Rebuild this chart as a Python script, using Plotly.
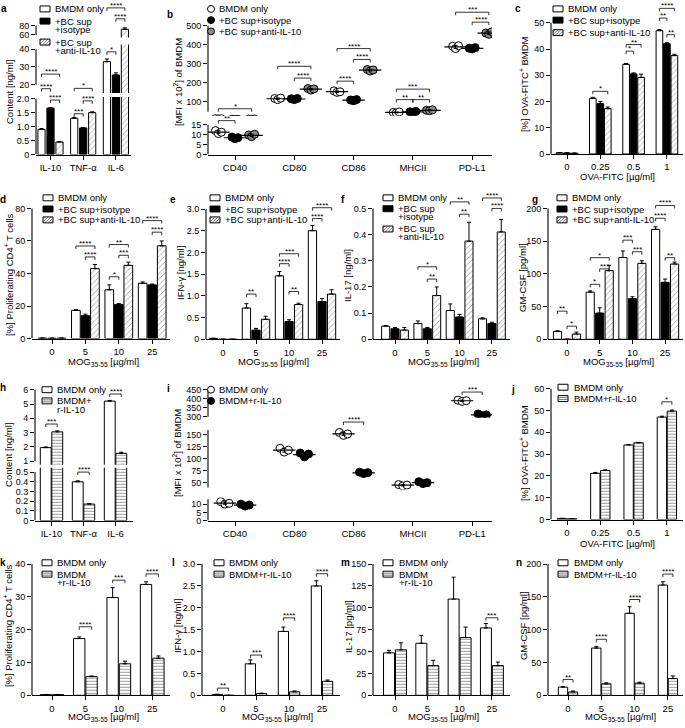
import plotly.graph_objects as go

W, H = 685, 728
FONT = "Liberation Sans, Arial, sans-serif"
FS = 9.5
TFS = 9
LW = 1.1

# ---------------- data ----------------
CYTO = ["IL-10", "TNF-α", "IL-6"]
SURF = ["CD40", "CD80", "CD86", "MHCII", "PD-L1"]
OVA = ["0", "0.25", "0.5", "1"]
MOG = ["0", "5", "10", "25"]

LEG_BC = ["BMDM only", "+BC sup+isotype", "+BC sup+anti-IL-10"]
LEG_BC_WRAP = ["BMDM only", ["+BC sup", "+isotype"], ["+BC sup", "+anti-IL-10"]]
LEG_R = ["BMDM only", "BMDM+r-IL-10"]
LEG_R_H = ["BMDM only", ["BMDM+", "r-IL-10"]]
LEG_R_WRAP = ["BMDM only", ["BMDM", "+r-IL-10"]]

# a  (cytokines, ng/ml)
A_ONLY = [0.9, 1.3, 33.0]
A_ONLY_ERR = [0.03, 0.03, 1.5]
A_ISO = [1.66, 0.95, 25.5]
A_ISO_ERR = [0.02, 0.02, 1.2]
A_ANTI = [0.45, 1.5, 72.0]
A_ANTI_ERR = [0.01, 0.03, 3.0]
A_SIG = [(0, 0, 1, 17.8, "****"), (0, 0, 2, 26.0, "****"), (0, 1, 2, 1.95, "****"),
         (1, 0, 1, 1.46, "***"), (1, 1, 2, 1.92, "****"), (1, 0, 2, 18.0, "*"),
         (2, 0, 1, 38.5, "*"), (2, 1, 2, 94.0, "****"), (2, 0, 2, 117.0, "****")]

# b  (MFI x 10^2, three replicates per group)
B_ONLY = [[12.0, 10.5, 11.2], [118, 112, 120], [158, 150, 153], [45, 42, 47], [392, 380, 395]]
B_ISO = [[8.8, 8.0, 8.5], [116, 112, 118], [110, 106, 112], [48, 46, 50], [382, 378, 385]]
B_ANTI = [[9.8, 9.0, 10.2], [170, 162, 168], [270, 262, 268], [56, 54, 58], [462, 455, 468]]
B_SIG = [(0, 0, 1, 17.0, "**"), (0, 0, 2, 64, "*"), (1, 0, 2, 287, "****"), (1, 1, 2, 225, "****"),
         (2, 0, 1, 209, "****"), (2, 0, 2, 380, "****"), (2, 1, 2, 323, "****"),
         (3, 0, 1, 112, "**"), (3, 1, 2, 112, "**"), (3, 0, 2, 167, "***"),
         (4, 0, 2, 571, "***"), (4, 1, 2, 519, "****")]

# c  (% OVA-FITC+ BMDM)
C_ONLY = [0.5, 21.2, 34.2, 47.0]
C_ONLY_ERR = [0.05, 0.4, 0.3, 0.4]
C_ISO = [0.4, 19.2, 30.5, 42.0]
C_ISO_ERR = [0.05, 0.8, 0.4, 0.4]
C_ANTI = [0.3, 17.3, 29.2, 37.5]
C_ANTI_ERR = [0.05, 0.6, 1.2, 0.5]
C_SIG = [(1, 0, 2, 23.9, "*"), (2, 0, 1, 39.2, "*"), (2, 0, 2, 41.7, "**"),
         (3, 0, 1, 51.8, "**"), (3, 1, 2, 45.5, "**"), (3, 0, 2, 55.5, "****")]

# d  (% proliferating CD4+ T cells)
D_ONLY = [0.3, 17.3, 30.0, 34.0]
D_ONLY_ERR = [0.05, 0.5, 3.0, 0.8]
D_ISO = [0.2, 14.0, 21.0, 33.0]
D_ISO_ERR = [0.05, 1.0, 0.5, 0.5]
D_ANTI = [0.3, 43.0, 45.0, 57.0]
D_ANTI_ERR = [0.05, 2.5, 2.0, 3.0]
D_SIG = [(1, 1, 2, 50.2, "****"), (1, 0, 2, 56.9, "****"), (2, 0, 1, 38.0, "*"),
         (2, 1, 2, 51.2, "***"), (2, 0, 2, 57.8, "**"), (3, 1, 2, 65.4, "****"), (3, 0, 2, 72.5, "****")]

# e  (IFN-g ng/ml)
E_ONLY = [0.02, 0.72, 1.46, 2.5]
E_ONLY_ERR = [0.003, 0.1, 0.1, 0.12]
E_ISO = [0.0, 0.21, 0.41, 0.87]
E_ISO_ERR = [0.0, 0.04, 0.04, 0.07]
E_ANTI = [0.0, 0.46, 0.8, 1.04]
E_ANTI_ERR = [0.0, 0.07, 0.03, 0.1]
E_SIG = [(1, 0, 1, 1.04, "**"), (2, 0, 1, 1.74, "****"), (2, 1, 2, 1.1, "**"),
         (2, 0, 2, 1.97, "***"), (3, 0, 1, 2.78, "****"), (3, 0, 2, 3.03, "****")]

# f  (IL-17 ng/ml)
F_ONLY = [0.05, 0.06, 0.11, 0.078]
F_ONLY_ERR = [0.003, 0.01, 0.025, 0.004]
F_ISO = [0.04, 0.04, 0.085, 0.06]
F_ISO_ERR = [0.005, 0.005, 0.01, 0.005]
F_ANTI = [0.035, 0.167, 0.375, 0.41]
F_ANTI_ERR = [0.01, 0.033, 0.072, 0.048]
F_SIG = [(1, 1, 2, 0.23, "**"), (1, 0, 2, 0.277, "*"), (2, 1, 2, 0.478, "**"),
         (2, 0, 2, 0.525, "**"), (3, 1, 2, 0.5, "****"), (3, 0, 2, 0.54, "****")]

# g  (GM-CSF pg/ml)
G_ONLY = [12, 72, 125, 168]
G_ONLY_ERR = [1, 2, 10, 4]
G_ISO = [0, 40, 62, 87]
G_ISO_ERR = [0, 8, 3, 5]
G_ANTI = [8, 105, 116, 115]
G_ANTI_ERR = [3, 8, 4, 3]
G_SIG = [(0, 0, 1, 43, "**"), (0, 1, 2, 20, "*"), (1, 0, 1, 84, "*"), (1, 1, 2, 107.6, "***"),
         (1, 0, 2, 124.7, "*"), (2, 0, 1, 151.5, "***"), (2, 1, 2, 133.8, "***"),
         (3, 1, 2, 124.7, "**"), (3, 0, 1, 185, "****"), (3, 0, 2, 204.5, "****")]

# h  (cytokines with r-IL-10)
H_ONLY = [1.95, 0.4, 5.2]
H_ONLY_ERR = [0.05, 0.01, 0.05]
H_RIL = [3.05, 0.17, 1.55]
H_RIL_ERR = [0.07, 0.005, 0.08]
H_SIG = [(0, 0, 1, 3.6, "***"), (1, 0, 1, 0.5, "****"), (2, 0, 1, 5.7, "****")]

# i  (MFI x 10^2 with r-IL-10)
I_ONLY = [[11.5, 10.0, 10.5], [122, 114, 118], [155, 149, 152], [46, 43, 45], [392, 385, 389]]
I_RIL = [[10.0, 8.8, 9.5], [112, 104, 110], [72, 69, 71], [52, 48, 50], [315, 305, 310]]
I_SIG = [(2, 0, 1, 177, "****"), (4, 0, 1, 437, "***")]

# j
J_ONLY = [0.5, 21.2, 34.2, 47.0]
J_ONLY_ERR = [0.05, 0.4, 0.2, 0.4]
J_RIL = [0.4, 22.5, 35.2, 49.7]
J_RIL_ERR = [0.05, 0.3, 0.2, 0.5]
J_SIG = [(3, 0, 1, 54, "*")]

# k
K_ONLY = [0.2, 17.3, 29.8, 33.8]
K_ONLY_ERR = [0.05, 0.5, 3.0, 0.8]
K_RIL = [0.2, 5.7, 9.6, 11.3]
K_RIL_ERR = [0.05, 0.2, 0.8, 0.7]
K_SIG = [(1, 0, 1, 20.9, "****"), (2, 0, 1, 35.1, "***"), (3, 0, 1, 37.0, "****")]

# l
L_ONLY = [0.02, 0.72, 1.46, 2.5]
L_ONLY_ERR = [0.003, 0.09, 0.1, 0.12]
L_RIL = [0.0, 0.04, 0.08, 0.32]
L_RIL_ERR = [0.0, 0.01, 0.02, 0.03]
L_SIG = [(0, 0, 1, 0.165, "**"), (1, 0, 1, 0.92, "***"), (2, 0, 1, 1.77, "****"), (3, 0, 1, 2.78, "****")]

# m
M_ONLY = [48.5, 59.5, 110, 77]
M_ONLY_ERR = [3, 9, 25, 5]
M_RIL = [52, 34, 66, 34]
M_RIL_ERR = [8, 6, 12, 4]
M_SIG = [(3, 0, 1, 88.6, "***")]

# n
N_ONLY = [12.5, 72, 125, 168]
N_ONLY_ERR = [1, 2.5, 10, 5]
N_RIL = [5, 17.5, 18.5, 25.5]
N_RIL_ERR = [1.5, 1.5, 1.5, 4]
N_SIG = [(0, 0, 1, 24, "**"), (1, 0, 1, 85.4, "****"), (2, 0, 1, 146, "****"), (3, 0, 1, 184.8, "****")]

# ---------------- helpers ----------------
fig = go.Figure()
layout = dict(width=W, height=H, margin=dict(l=0, r=0, t=0, b=0),
              paper_bgcolor="white", plot_bgcolor="white", showlegend=False,
              barmode="overlay", font=dict(family=FONT, size=FS, color="black"))
shapes, annots = [], []
counter = {"x": 0, "y": 0}

XSTYLE = dict(showline=True, linecolor="black", linewidth=LW, ticks="outside", ticklen=4,
              tickwidth=1, tickcolor="black", showgrid=False, zeroline=False,
              tickfont=dict(size=FS), fixedrange=True)
YSTYLE = dict(showline=False, ticks="outside", ticklen=4, tickwidth=1, tickcolor="black",
              showgrid=False, zeroline=False, tickfont=dict(size=TFS), fixedrange=True)

BAR_STYLE = {
    "open": dict(color="white", line=dict(color="black", width=1)),
    "solid": dict(color="black", line=dict(color="black", width=1)),
    "hatch": dict(color="white", line=dict(color="black", width=1),
                  pattern=dict(shape="/", fgcolor="#222", bgcolor="white", size=4, solidity=0.18)),
    "stripe": dict(color="white", line=dict(color="black", width=1),
                   pattern=dict(shape="-", fgcolor="#222", bgcolor="white", size=3, solidity=0.3)),
}
DOT_COLOR = {"open": "white", "solid": "black", "grey": "#8a8a8a"}


def fx(px):
    return px / W


def fy(py):
    return 1 - py / H


def next_id(letter):
    counter[letter] += 1
    n = counter[letter]
    return "" if n == 1 else str(n)


def tick_text(vals, dec):
    return ["0" if v == 0 else f"{v:.{dec}f}" for v in vals]


def panel(left, right, c0, sp, labels, segs):
    xs = next_id("x")
    ys = []
    for s in segs:
        yid = next_id("y")
        v0, p0, v1, p1 = s["cal"]
        k = (v1 - v0) / (p0 - p1)
        lo = v0 + (p0 - s["bottom"]) * k
        hi = v0 + (p0 - s["top"]) * k
        layout["yaxis" + yid] = dict(domain=[fy(s["bottom"]), fy(s["top"])], range=[lo, hi],
                                     anchor="x" + xs, tickvals=s["ticks"],
                                     ticktext=tick_text(s["ticks"], s.get("dec", 0)), **YSTYLE)
        l0, l1 = s.get("line", (s["ticks"][0], s["ticks"][-1]))
        shapes.append(dict(type="line", xref=f"x{xs} domain", yref="y" + yid, x0=0, x1=0,
                           y0=l0, y1=l1, line=dict(color="black", width=LW)))
        ys.append((yid, lo, hi))
    layout["xaxis" + xs] = dict(domain=[fx(left), fx(right)],
                                range=[(left - c0) / sp, (right - c0) / sp],
                                anchor="y" + ys[0][0], tickvals=list(range(len(labels))),
                                ticktext=labels, **XSTYLE)
    return dict(x=xs, ys=ys)


def bars(p, series, errs, styles, bw, pitch):
    m = len(series)
    for yid, lo, hi in p["ys"]:
        for k, (vals, err, st) in enumerate(zip(series, errs, styles)):
            off = (k - (m - 1) / 2) * pitch - bw / 2
            fig.add_trace(go.Bar(
                x=list(range(len(vals))), y=vals, width=bw, offset=off, marker=BAR_STYLE[st],
                error_y=dict(type="data", array=err, arrayminus=[0] * len(err), symmetric=False,
                             color="black", thickness=1, width=2),
                xaxis="x" + p["x"], yaxis="y" + yid, hoverinfo="skip"))


def dots(p, groups, styles, pitch, jitter):
    m = len(groups)
    for yid, lo, hi in p["ys"]:
        for k, (reps, st) in enumerate(zip(groups, styles)):
            base = (k - (m - 1) / 2) * pitch
            xs, yv = [], []
            for c, r in enumerate(reps):
                for j, v in enumerate(r):
                    xs.append(c + base + jitter[j])
                    yv.append(v)
            fig.add_trace(go.Scatter(x=xs, y=yv, mode="markers",
                                     marker=dict(size=8, color=DOT_COLOR[st],
                                                 line=dict(color="black", width=1)),
                                     xaxis="x" + p["x"], yaxis="y" + yid, hoverinfo="skip"))
            means = [sum(r) / len(r) for r in reps]
            sds = [(sum((v - mu) ** 2 for v in r) / (len(r) - 1)) ** 0.5 for r, mu in zip(reps, means)]
            fig.add_trace(go.Scatter(x=[c + base for c in range(len(reps))], y=means, mode="markers",
                                     marker=dict(symbol="line-ew-open", size=16, color="black",
                                                 line=dict(color="black", width=1.2)),
                                     error_y=dict(type="data", array=sds, color="black",
                                                  thickness=1, width=2),
                                     xaxis="x" + p["x"], yaxis="y" + yid, hoverinfo="skip"))


def brackets(p, sig, m, pitch):
    for cat, i, j, h, stars in sig:
        xa = cat + (i - (m - 1) / 2) * pitch
        xb = cat + (j - (m - 1) / 2) * pitch
        yid = next(y for y, lo, hi in p["ys"] if lo <= h <= hi)
        shapes.append(dict(type="path", xref="x" + p["x"], yref="y" + yid, ysizemode="pixel",
                           yanchor=h, path=f"M{xa},-3 L{xa},0 L{xb},0 L{xb},-3",
                           line=dict(color="black", width=0.8)))
        annots.append(dict(x=(xa + xb) / 2, y=h, xref="x" + p["x"], yref="y" + yid, text=stars,
                           showarrow=False, yanchor="bottom", yshift=-4, font=dict(size=8)))


def text(x, y, s, size=FS, angle=0, anchor="center", bold=False):
    annots.append(dict(x=fx(x), y=fy(y), xref="paper", yref="paper", showarrow=False,
                       text=f"<b>{s}</b>" if bold else s, textangle=angle, xanchor=anchor,
                       yanchor="middle", font=dict(size=size)))


def box(bx, y, kind):
    x0, x1, y0, y1 = bx, bx + 10, y - 3, y + 3
    if kind.startswith("dot"):
        col = DOT_COLOR[kind[4:]]
        shapes.append(dict(type="circle", xref="paper", yref="paper", x0=fx(bx + 1.5), x1=fx(bx + 8.5),
                           y0=fy(y + 3.5), y1=fy(y - 3.5), fillcolor=col, line=dict(color="black", width=1)))
        return
    fill = "black" if kind == "solid" else "white"
    shapes.append(dict(type="rect", xref="paper", yref="paper", x0=fx(x0), x1=fx(x1), y0=fy(y1), y1=fy(y0),
                       fillcolor=fill, line=dict(color="black", width=1)))
    if kind == "hatch":
        h, w = 6, 10
        for t in range(-4, 10, 3):
            s0, s1 = max(0, -t), min(h, w - t)
            if s0 < s1:
                shapes.append(dict(type="line", xref="paper", yref="paper",
                                   x0=fx(x0 + t + s0), y0=fy(y1 - s0), x1=fx(x0 + t + s1), y1=fy(y1 - s1),
                                   line=dict(color="#222", width=0.6)))
    if kind == "stripe":
        for yy in (y - 1, y + 1):
            shapes.append(dict(type="line", xref="paper", yref="paper", x0=fx(x0), x1=fx(x1),
                               y0=fy(yy), y1=fy(yy), line=dict(color="#222", width=0.6)))


def legend(bx, tx, rows, gap, kinds, labels):
    for y, kind, lab in zip(rows, kinds, labels):
        box(bx, y, kind)
        lines = [lab] if isinstance(lab, str) else lab
        for n, ln in enumerate(lines):
            text(tx, y + n * gap, ln, anchor="left")


MOG_T = "MOG<sub>35-55</sub> [µg/ml]"
OVA_T = "OVA-FITC [µg/ml]"
MFI_T = "[MFI x 10<sup>2</sup>] of BMDM"
FITC_T = "[%] OVA-FITC<sup>+</sup> BMDM"
PROL_T = "[%] Proliferating CD4<sup>+</sup> T cells"
S3 = ["open", "solid", "hatch"]
S2 = ["open", "stripe"]

# ---------------- panel a ----------------
pa = panel(36, 131, 50.5, 32.7, CYTO, [
    dict(bottom=153.3, top=95, cal=(0, 153.3, 2, 96.7), ticks=[0, 0.5, 1, 1.5, 2], dec=1),
    dict(bottom=91, top=42, cal=(20, 82.7, 40, 46.7), ticks=[20, 30, 40]),
    dict(bottom=35, top=0, cal=(60, 32.3, 80, 22.7), ticks=[60, 80]),
])
bars(pa, [A_ONLY, A_ISO, A_ANTI], [A_ONLY_ERR, A_ISO_ERR, A_ANTI_ERR], S3, 0.22, 0.275)
brackets(pa, A_SIG, 3, 0.275)
legend(40, 53, [6, 18.3, 39.5], 8.2, S3, LEG_BC_WRAP)
text(9, 90, "Content [ng/ml]", angle=-90)
text(4, 6, "a", 10, bold=True)

# ---------------- panel b ----------------
pb = panel(208, 492, 235, 59.3, SURF, [
    dict(bottom=153.3, top=116, cal=(0, 153.3, 15, 123), ticks=[0, 5, 10, 15]),
    dict(bottom=114, top=2, cal=(100, 100, 500, 23), ticks=[100, 200, 300, 400, 500], line=(48, 500)),
])
dots(pb, [B_ONLY, B_ISO, B_ANTI], ["open", "solid", "grey"], 0.28, [-0.05, 0, 0.05])
brackets(pb, B_SIG, 3, 0.28)
legend(206, 217, [6, 17.3, 28.7], 8, ["dot_open", "dot_solid", "dot_grey"], LEG_BC)
text(178, 80, MFI_T, angle=-90)
text(170, 12, "b", 10, bold=True)

# ---------------- panel c ----------------
pc = panel(551, 683, 567, 33.3, OVA, [
    dict(bottom=152.7, top=0, cal=(0, 152.7, 50, 20), ticks=[0, 10, 20, 30, 40, 50]),
])
bars(pc, [C_ONLY, C_ISO, C_ANTI], [C_ONLY_ERR, C_ISO_ERR, C_ANTI_ERR], S3, 0.2, 0.225)
brackets(pc, C_SIG, 3, 0.225)
legend(553, 566, [6, 17.3, 30], 8, S3, LEG_BC)
text(524, 82, FITC_T, angle=-90)
text(617, 175, OVA_T)
text(518, 6, "c", 10, bold=True)

# ---------------- panel d ----------------
pd_ = panel(32, 170, 52, 33.4, MOG, [
    dict(bottom=339.3, top=196, cal=(0, 339.3, 80, 207.7), ticks=[0, 20, 40, 60, 80]),
])
bars(pd_, [D_ONLY, D_ISO, D_ANTI], [D_ONLY_ERR, D_ISO_ERR, D_ANTI_ERR], S3, 0.26, 0.285)
brackets(pd_, D_SIG, 3, 0.285)
legend(43, 56, [197, 208.3, 219.3], 8, S3, LEG_BC)
text(9, 275, PROL_T, angle=-90)
text(103, 363, MOG_T)
text(3, 199, "d", 10, bold=True)

# ---------------- panel e ----------------
pe = panel(206, 340, 223, 33, MOG, [
    dict(bottom=340, top=196, cal=(0, 340, 3, 208.3), ticks=[0, 0.5, 1, 1.5, 2, 2.5, 3], dec=1),
])
bars(pe, [E_ONLY, E_ISO, E_ANTI], [E_ONLY_ERR, E_ISO_ERR, E_ANTI_ERR], S3, 0.25, 0.29)
brackets(pe, E_SIG, 3, 0.29)
legend(210, 223, [197, 208.3, 219.3], 8, S3, LEG_BC)
text(180, 273, "IFN-γ [ng/ml]", angle=-90)
text(273, 363, MOG_T)
text(173, 199, "e", 10, bold=True)

# ---------------- panel f ----------------
pf = panel(373, 510, 395, 32.3, MOG, [
    dict(bottom=340, top=194, cal=(0, 340, 0.5, 207.7), ticks=[0, 0.1, 0.2, 0.3, 0.4, 0.5], dec=1),
])
bars(pf, [F_ONLY, F_ISO, F_ANTI], [F_ONLY_ERR, F_ISO_ERR, F_ANTI_ERR], S3, 0.25, 0.29)
brackets(pf, F_SIG, 3, 0.29)
legend(383, 396, [197, 208, 228.5], 8, S3, LEG_BC_WRAP)
text(348, 275, "IL-17 [ng/ml]", angle=-90)
text(443, 363, MOG_T)
text(343, 199, "f", 10, bold=True)

# ---------------- panel g ----------------
pg = panel(548, 683, 567, 32.7, MOG, [
    dict(bottom=340, top=194, cal=(0, 340, 200, 207.7), ticks=[0, 50, 100, 150, 200]),
])
bars(pg, [G_ONLY, G_ISO, G_ANTI], [G_ONLY_ERR, G_ISO_ERR, G_ANTI_ERR], S3, 0.25, 0.29)
brackets(pg, G_SIG, 3, 0.29)
legend(557, 570, [197, 208.3, 219.3], 8, S3, LEG_BC)
text(523, 278, "GM-CSF [pg/ml]", angle=-90)
text(618, 363, MOG_T)
text(535, 199, "g", 10, bold=True)

# ---------------- panel h ----------------
ph = panel(35, 133, 51.5, 32, CYTO, [
    dict(bottom=523.3, top=470, cal=(0, 523.3, 0.5, 474.3), ticks=[0, 0.1, 0.2, 0.3, 0.4, 0.5], dec=1),
    dict(bottom=467, top=386, cal=(1, 463.3, 6, 391), ticks=[1, 2, 3, 4, 5, 6]),
])
bars(ph, [H_ONLY, H_RIL], [H_ONLY_ERR, H_RIL_ERR], S2, 0.34, 0.36)
brackets(ph, H_SIG, 2, 0.36)
legend(42, 55, [391, 402.3], 8.5, S2, LEG_R_H)
text(9, 457, "Content [ng/ml]", angle=-90)
text(3, 389, "h", 10, bold=True)

# ---------------- panel i ----------------
pi = panel(208, 492, 235, 59.3, SURF, [
    dict(bottom=523.3, top=500, cal=(0, 523.3, 10, 506.7), ticks=[0, 5, 10], line=(0, 13)),
    dict(bottom=492, top=421, cal=(50, 485, 150, 436.7), ticks=[50, 75, 100, 125, 150], line=(40, 160)),
    dict(bottom=419, top=386, cal=(300, 418.3, 450, 391), ticks=[300, 350, 400, 450]),
])
dots(pi, [I_ONLY, I_RIL], ["open", "solid"], 0.34, [-0.07, 0, 0.07])
brackets(pi, I_SIG, 2, 0.34)
legend(206, 217, [391, 402.3], 8, ["dot_open", "dot_solid"], LEG_R)
text(177, 455, MFI_T, angle=-90)
text(168, 390, "i", 10, bold=True)

# ---------------- panel j ----------------
pj = panel(551, 683, 567, 33.3, OVA, [
    dict(bottom=522.3, top=386, cal=(0, 522.3, 60, 390), ticks=[0, 10, 20, 30, 40, 50, 60]),
])
bars(pj, [J_ONLY, J_RIL], [J_ONLY_ERR, J_RIL_ERR], S2, 0.28, 0.3)
brackets(pj, J_SIG, 2, 0.3)
legend(558, 572, [388.5, 400], 8, S2, LEG_R)
text(524, 455, FITC_T, angle=-90)
text(617, 547, OVA_T)
text(513, 391, "j", 10, bold=True)

# ---------------- panel k ----------------
pk = panel(32, 170, 52, 33.4, MOG, [
    dict(bottom=700, top=563, cal=(0, 700, 40, 567.3), ticks=[0, 10, 20, 30, 40]),
])
bars(pk, [K_ONLY, K_RIL], [K_ONLY_ERR, K_RIL_ERR], S2, 0.34, 0.37)
brackets(pk, K_SIG, 2, 0.37)
legend(42, 55, [566, 577.5], 8.5, S2, LEG_R_WRAP)
text(8, 630, PROL_T, angle=-90)
text(103, 722, MOG_T)
text(3, 566, "k", 10, bold=True)

# ---------------- panel l ----------------
pl = panel(202, 340, 223, 33, MOG, [
    dict(bottom=700, top=563, cal=(0, 700, 3, 567.3), ticks=[0, 0.5, 1, 1.5, 2, 2.5, 3], dec=1),
])
bars(pl, [L_ONLY, L_RIL], [L_ONLY_ERR, L_RIL_ERR], S2, 0.31, 0.34)
brackets(pl, L_SIG, 2, 0.34)
legend(214, 227, [566, 577.5], 8, S2, LEG_R)
text(177, 630, "IFN-γ [ng/ml]", angle=-90)
text(277, 722, MOG_T)
text(173, 566, "l", 10, bold=True)

# ---------------- panel m ----------------
pm = panel(373, 510, 395, 32.3, MOG, [
    dict(bottom=700, top=563, cal=(0, 700, 150, 567.3), ticks=[0, 25, 50, 75, 100, 125, 150]),
])
bars(pm, [M_ONLY, M_RIL], [M_ONLY_ERR, M_RIL_ERR], S2, 0.34, 0.37)
brackets(pm, M_SIG, 2, 0.37)
legend(383, 397, [566, 577.5], 8.5, S2, LEG_R_WRAP)
text(348, 630, "IL-17 [pg/ml]", angle=-90)
text(443, 722, MOG_T)
text(345, 566, "m", 10, bold=True)

# ---------------- panel n ----------------
pn = panel(548, 683, 568, 33.3, MOG, [
    dict(bottom=700, top=563, cal=(0, 700, 200, 567.3), ticks=[0, 50, 100, 150, 200]),
])
bars(pn, [N_ONLY, N_RIL], [N_ONLY_ERR, N_RIL_ERR], S2, 0.28, 0.3)
brackets(pn, N_SIG, 2, 0.3)
legend(558, 572, [566, 577.5], 8, S2, LEG_R)
text(523, 630, "GM-CSF [pg/ml]", angle=-90)
text(620, 722, MOG_T)
text(519, 566, "n", 10, bold=True)

layout["shapes"] = shapes
layout["annotations"] = annots
fig.update_layout(**layout)
# the page body has a default margin; drop it so the figure sits at the window corner
fig.write_html("out.html", config={"displayModeBar": False},
               post_script="document.body.style.margin = '0';")
